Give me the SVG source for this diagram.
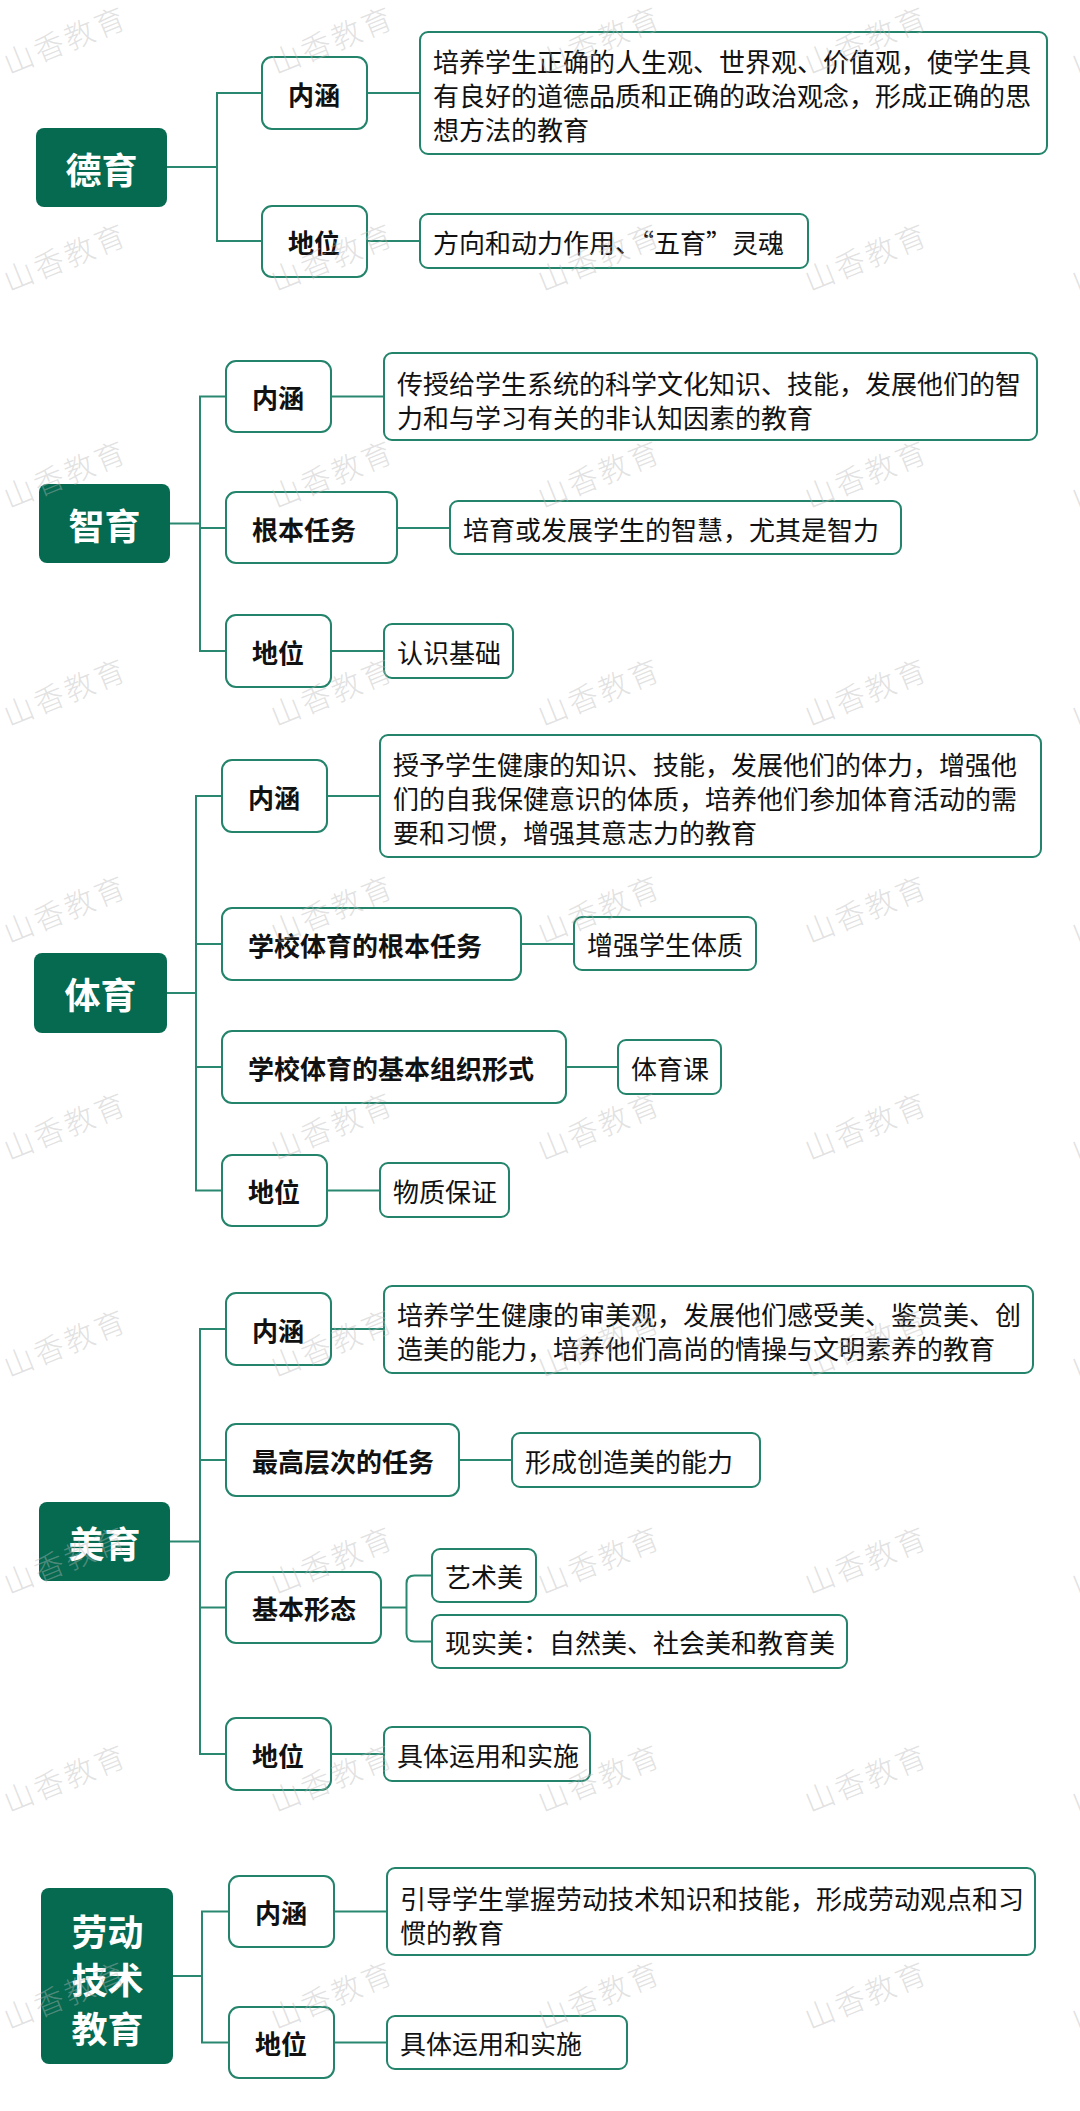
<svg xmlns="http://www.w3.org/2000/svg" xmlns:xlink="http://www.w3.org/1999/xlink" width="1080" height="2111" viewBox="0 0 1080 2111">
<style>
.root{fill:#056A50;}
.rt{fill:#ffffff;font-family:"Noto Sans CJK SC","Noto Sans",sans-serif;font-size:36px;font-weight:700;text-anchor:middle;dominant-baseline:central;}
.lb{fill:#ffffff;stroke:#23846B;stroke-width:2;}
.lt{fill:#111111;font-family:"Noto Sans CJK SC","Noto Sans",sans-serif;font-size:26px;font-weight:700;dominant-baseline:central;}
.ct{fill:#111111;font-family:"Noto Sans CJK SC","Noto Sans",sans-serif;font-size:26px;font-weight:400;dominant-baseline:central;}
.cn{fill:none;stroke:#2A8870;stroke-width:2;}
.wm{fill:#B8B8B8;fill-opacity:0.42;font-family:"Noto Sans CJK SC","Noto Sans",sans-serif;font-size:30px;font-weight:300;letter-spacing:2.6px;}
</style>
<defs>
<text id="wm" class="wm" x="0" y="0" transform="rotate(-22)">山香教育</text>
</defs>
<rect width="1080" height="2111" fill="#ffffff"/>

<g id="connectors" class="cn">
<path d="M167,167 H217 M262,93 H217 V241 H262 M367,93 H420 M367,241 H420"/>
<path d="M170,523.5 H200 M226,396.5 H200 V651 H226 M200,528 H226 M331,396.5 H384 M397,528 H450 M331,651 H384"/>
<path d="M167,993 H196 M222,796 H196 V1190.5 H222 M196,944 H222 M196,1067 H222 M327,796 H380 M521,944 H574 M566,1067 H618 M327,1190.5 H380"/>
<path d="M170,1541.5 H200 M226,1329 H200 V1754 H226 M200,1460 H226 M200,1607.5 H226 M331,1329 H384 M459,1460 H512 M331,1754 H384"/>
<path d="M381,1607.5 H406.5 M432,1575.5 H414.5 Q406.5,1575.5 406.5,1583.5 V1633.5 Q406.5,1641.5 414.5,1641.5 H432"/>
<path d="M173,1976 H202 M229,1911.5 H202 V2042.5 H229 M334,1911.5 H387 M334,2042.5 H387"/>
</g>

<!-- 德育 -->
<g id="n-deyu"><rect class="root" x="36" y="128" width="131" height="79" rx="8"/><text class="rt" x="101.5" y="167.5">德育</text></g>
<g id="n-deyu-nh"><rect class="lb" x="262" y="57" width="105" height="72" rx="10"/><text class="lt" x="288" y="93">内涵</text></g>
<g id="n-deyu-dw"><rect class="lb" x="262" y="206" width="105" height="71" rx="10"/><text class="lt" x="288" y="241.5">地位</text></g>
<g id="n-deyu-nh-c"><rect class="lb" x="420" y="32" width="627" height="122" rx="8"/>
<text class="ct" x="433" y="60.5">培养学生正确的人生观、世界观、价值观，使学生具</text>
<text class="ct" x="433" y="94.5">有良好的道德品质和正确的政治观念，形成正确的思</text>
<text class="ct" x="433" y="128.5">想方法的教育</text></g>
<g id="n-deyu-dw-c"><rect class="lb" x="420" y="214" width="388" height="54" rx="8"/><text class="ct" x="433" y="241">方向和动力作用、“五育”灵魂</text></g>

<!-- 智育 -->
<g id="n-zhiyu"><rect class="root" x="39" y="484" width="131" height="79" rx="8"/><text class="rt" x="104.5" y="523.5">智育</text></g>
<g id="n-zhiyu-nh"><rect class="lb" x="226" y="361" width="105" height="71" rx="10"/><text class="lt" x="252" y="396.5">内涵</text></g>
<g id="n-zhiyu-rw"><rect class="lb" x="226" y="492" width="171" height="71" rx="10"/><text class="lt" x="252" y="528">根本任务</text></g>
<g id="n-zhiyu-dw"><rect class="lb" x="226" y="615" width="105" height="72" rx="10"/><text class="lt" x="252" y="651">地位</text></g>
<g id="n-zhiyu-nh-c"><rect class="lb" x="384" y="353" width="653" height="87" rx="8"/>
<text class="ct" x="397" y="382">传授给学生系统的科学文化知识、技能，发展他们的智</text>
<text class="ct" x="397" y="416">力和与学习有关的非认知因素的教育</text></g>
<g id="n-zhiyu-rw-c"><rect class="lb" x="450" y="501" width="451" height="53" rx="8"/><text class="ct" x="463" y="528">培育或发展学生的智慧，尤其是智力</text></g>
<g id="n-zhiyu-dw-c"><rect class="lb" x="384" y="624" width="129" height="54" rx="8"/><text class="ct" x="397" y="651">认识基础</text></g>

<!-- 体育 -->
<g id="n-tiyu"><rect class="root" x="34" y="953" width="133" height="80" rx="8"/><text class="rt" x="100.5" y="993">体育</text></g>
<g id="n-tiyu-nh"><rect class="lb" x="222" y="760" width="105" height="72" rx="10"/><text class="lt" x="248" y="796">内涵</text></g>
<g id="n-tiyu-rw"><rect class="lb" x="222" y="908" width="299" height="72" rx="10"/><text class="lt" x="248" y="944">学校体育的根本任务</text></g>
<g id="n-tiyu-zz"><rect class="lb" x="222" y="1031" width="344" height="72" rx="10"/><text class="lt" x="248" y="1067">学校体育的基本组织形式</text></g>
<g id="n-tiyu-dw"><rect class="lb" x="222" y="1155" width="105" height="71" rx="10"/><text class="lt" x="248" y="1190.5">地位</text></g>
<g id="n-tiyu-nh-c"><rect class="lb" x="380" y="735" width="661" height="122" rx="8"/>
<text class="ct" x="393" y="763.5">授予学生健康的知识、技能，发展他们的体力，增强他</text>
<text class="ct" x="393" y="797.5">们的自我保健意识的体质，培养他们参加体育活动的需</text>
<text class="ct" x="393" y="831.5">要和习惯，增强其意志力的教育</text></g>
<g id="n-tiyu-rw-c"><rect class="lb" x="574" y="917" width="182" height="53" rx="8"/><text class="ct" x="587" y="943.5">增强学生体质</text></g>
<g id="n-tiyu-zz-c"><rect class="lb" x="618" y="1040" width="103" height="54" rx="8"/><text class="ct" x="631" y="1067">体育课</text></g>
<g id="n-tiyu-dw-c"><rect class="lb" x="380" y="1163" width="129" height="54" rx="8"/><text class="ct" x="393" y="1190">物质保证</text></g>

<!-- 美育 -->
<g id="n-meiyu"><rect class="root" x="39" y="1502" width="131" height="79" rx="8"/><text class="rt" x="104.5" y="1541.5">美育</text></g>
<g id="n-meiyu-nh"><rect class="lb" x="226" y="1293" width="105" height="72" rx="10"/><text class="lt" x="252" y="1329">内涵</text></g>
<g id="n-meiyu-rw"><rect class="lb" x="226" y="1424" width="233" height="72" rx="10"/><text class="lt" x="252" y="1460">最高层次的任务</text></g>
<g id="n-meiyu-xt"><rect class="lb" x="226" y="1572" width="155" height="71" rx="10"/><text class="lt" x="252" y="1607.5">基本形态</text></g>
<g id="n-meiyu-dw"><rect class="lb" x="226" y="1718" width="105" height="72" rx="10"/><text class="lt" x="252" y="1754">地位</text></g>
<g id="n-meiyu-nh-c"><rect class="lb" x="384" y="1286" width="649" height="87" rx="8"/>
<text class="ct" x="397" y="1313.5">培养学生健康的审美观，发展他们感受美、鉴赏美、创</text>
<text class="ct" x="397" y="1347.5">造美的能力，培养他们高尚的情操与文明素养的教育</text></g>
<g id="n-meiyu-rw-c"><rect class="lb" x="512" y="1433" width="248" height="54" rx="8"/><text class="ct" x="525" y="1460">形成创造美的能力</text></g>
<g id="n-meiyu-xt-c1"><rect class="lb" x="432" y="1549" width="104" height="53" rx="8"/><text class="ct" x="445" y="1575.5">艺术美</text></g>
<g id="n-meiyu-xt-c2"><rect class="lb" x="432" y="1615" width="415" height="53" rx="8"/><text class="ct" x="445" y="1641.5">现实美：自然美、社会美和教育美</text></g>
<g id="n-meiyu-dw-c"><rect class="lb" x="384" y="1727" width="206" height="54" rx="8"/><text class="ct" x="397" y="1754">具体运用和实施</text></g>

<!-- 劳动技术教育 -->
<g id="n-laodong"><rect class="root" x="41" y="1888" width="132" height="176" rx="8"/>
<text class="rt" x="107.5" y="1930">劳动</text>
<text class="rt" x="107.5" y="1978">技术</text>
<text class="rt" x="107.5" y="2026.5">教育</text></g>
<g id="n-laodong-nh"><rect class="lb" x="229" y="1876" width="105" height="71" rx="10"/><text class="lt" x="255" y="1911.5">内涵</text></g>
<g id="n-laodong-dw"><rect class="lb" x="229" y="2007" width="105" height="71" rx="10"/><text class="lt" x="255" y="2042.5">地位</text></g>
<g id="n-laodong-nh-c"><rect class="lb" x="387" y="1868" width="648" height="87" rx="8"/>
<text class="ct" x="400" y="1897">引导学生掌握劳动技术知识和技能，形成劳动观点和习</text>
<text class="ct" x="400" y="1931">惯的教育</text></g>
<g id="n-laodong-dw-c"><rect class="lb" x="387" y="2016" width="240" height="53" rx="8"/><text class="ct" x="400" y="2042.5">具体运用和实施</text></g>

<g id="watermarks">
<use xlink:href="#wm" x="9" y="75"/><use xlink:href="#wm" x="276" y="75"/><use xlink:href="#wm" x="543" y="75"/><use xlink:href="#wm" x="810" y="75"/><use xlink:href="#wm" x="1077" y="75"/>
<use xlink:href="#wm" x="9" y="292"/><use xlink:href="#wm" x="276" y="292"/><use xlink:href="#wm" x="543" y="292"/><use xlink:href="#wm" x="810" y="292"/><use xlink:href="#wm" x="1077" y="292"/>
<use xlink:href="#wm" x="9" y="509"/><use xlink:href="#wm" x="276" y="509"/><use xlink:href="#wm" x="543" y="509"/><use xlink:href="#wm" x="810" y="509"/><use xlink:href="#wm" x="1077" y="509"/>
<use xlink:href="#wm" x="9" y="727"/><use xlink:href="#wm" x="276" y="727"/><use xlink:href="#wm" x="543" y="727"/><use xlink:href="#wm" x="810" y="727"/><use xlink:href="#wm" x="1077" y="727"/>
<use xlink:href="#wm" x="9" y="944"/><use xlink:href="#wm" x="276" y="944"/><use xlink:href="#wm" x="543" y="944"/><use xlink:href="#wm" x="810" y="944"/><use xlink:href="#wm" x="1077" y="944"/>
<use xlink:href="#wm" x="9" y="1161"/><use xlink:href="#wm" x="276" y="1161"/><use xlink:href="#wm" x="543" y="1161"/><use xlink:href="#wm" x="810" y="1161"/><use xlink:href="#wm" x="1077" y="1161"/>
<use xlink:href="#wm" x="9" y="1378"/><use xlink:href="#wm" x="276" y="1378"/><use xlink:href="#wm" x="543" y="1378"/><use xlink:href="#wm" x="810" y="1378"/><use xlink:href="#wm" x="1077" y="1378"/>
<use xlink:href="#wm" x="9" y="1595"/><use xlink:href="#wm" x="276" y="1595"/><use xlink:href="#wm" x="543" y="1595"/><use xlink:href="#wm" x="810" y="1595"/><use xlink:href="#wm" x="1077" y="1595"/>
<use xlink:href="#wm" x="9" y="1813"/><use xlink:href="#wm" x="276" y="1813"/><use xlink:href="#wm" x="543" y="1813"/><use xlink:href="#wm" x="810" y="1813"/><use xlink:href="#wm" x="1077" y="1813"/>
<use xlink:href="#wm" x="9" y="2030"/><use xlink:href="#wm" x="276" y="2030"/><use xlink:href="#wm" x="543" y="2030"/><use xlink:href="#wm" x="810" y="2030"/><use xlink:href="#wm" x="1077" y="2030"/>
</g>
</svg>
